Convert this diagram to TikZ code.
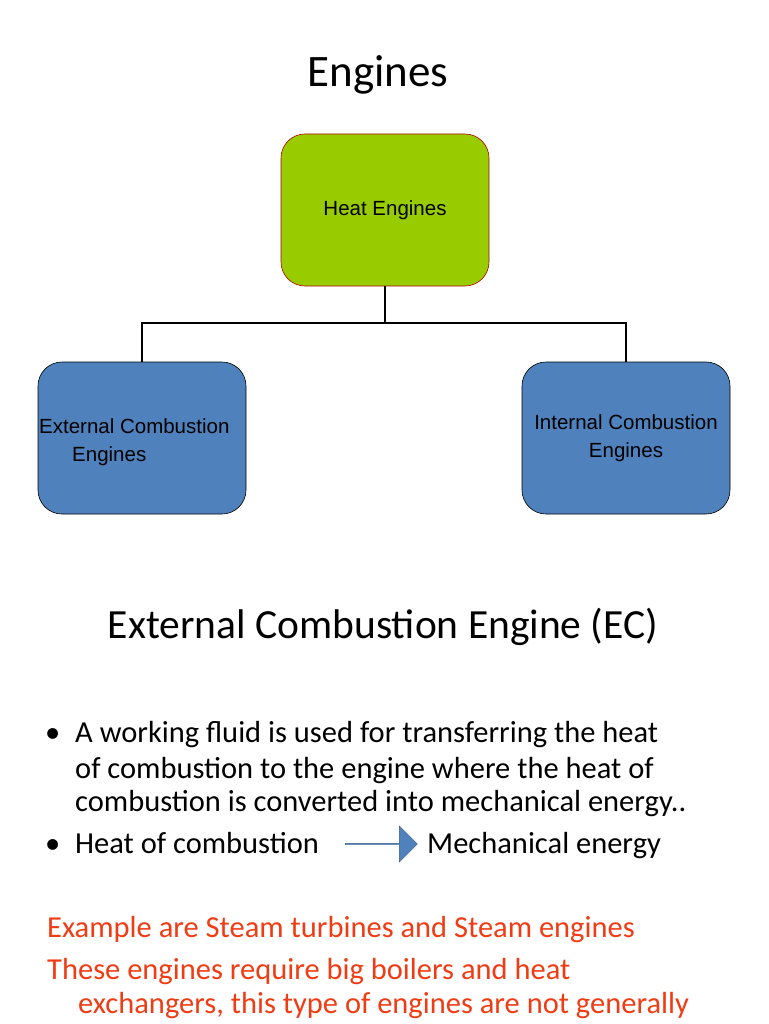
\documentclass[tikz,border=0pt]{standalone}
\usepackage{fontspec}
\setmainfont{Carlito}
\newfontfamily\arial{Liberation Sans}
\usetikzlibrary{shapes.arrows}
\definecolor{grn}{HTML}{99CC00}
\definecolor{blu}{HTML}{4F81BD}
\definecolor{redt}{HTML}{F03C14}
\begin{document}
\begin{tikzpicture}[x=1pt,y=-1pt,
  box/.style={rounded corners=24pt,minimum width=208pt,minimum height=152pt,inner sep=0pt,font=\arial\fontsize{20.5}{28}\selectfont,align=center},
  body/.style={anchor=base west,inner sep=0pt,font=\fontsize{30.5}{36}\selectfont},
  red/.style={body,text=redt}]
\useasboundingbox (0,0) rectangle (768,1024);
\node[inner sep=0pt,font=\fontsize{45}{52}\selectfont] (title) at (378,75) {Engines};
\node[box,fill=grn,draw=red!70!black,line width=0.6pt] (he) at (385,210) {Heat Engines};
\node[box,fill=blu,draw=black,line width=0.6pt] (ec) at (142,438) {};
\node[anchor=base west,inner sep=0pt,font=\arial\fontsize{20.5}{28}\selectfont] (ect1) at (39,433) {External Combustion};
\node[anchor=base west,inner sep=0pt,font=\arial\fontsize{20.5}{28}\selectfont] (ect2) at (72,461) {Engines};
\node[box,fill=blu,draw=black,line width=0.6pt] (ic) at (626,438) {Internal Combustion\\Engines};
\coordinate (j) at (385,323);
\draw[line width=2pt] (he.south) -- (j) -| (ec.north);
\draw[line width=2pt] (j) -| (ic.north);
\node[inner sep=0pt,font=\fontsize{41.5}{48}\selectfont] (h2) at (383,627) {External Combustion Engine (EC)};
\node[body] (b1) at (45,742) {\textbullet};
\node[body] (l1) at (75,742) {A working fluid is used for transferring the heat};
\node[body] (l2) at (75,778) {of combustion to the engine where the heat of};
\node[body] (l3) at (75,811) {combustion is converted into mechanical energy..};
\node[body] (b2) at (45,853) {\textbullet};
\node[body] (l4) at (75,853) {Heat of combustion};
\node[single arrow,fill=blu,draw=blu!70!black,minimum width=36pt,single arrow head extend=5pt,minimum height=72pt,inner sep=0pt,single arrow tip angle=90] (arr) at (381,844) {};
\node[body] (l5) at (427,853) {Mechanical energy};
\node[red] (r1) at (47,937) {Example are Steam turbines and Steam engines};
\node[red] (r2) at (47,979) {These engines require big boilers and heat};
\node[red] (r3) at (78,1013) {exchangers, this type of engines are not generally};
\end{tikzpicture}
\end{document}
